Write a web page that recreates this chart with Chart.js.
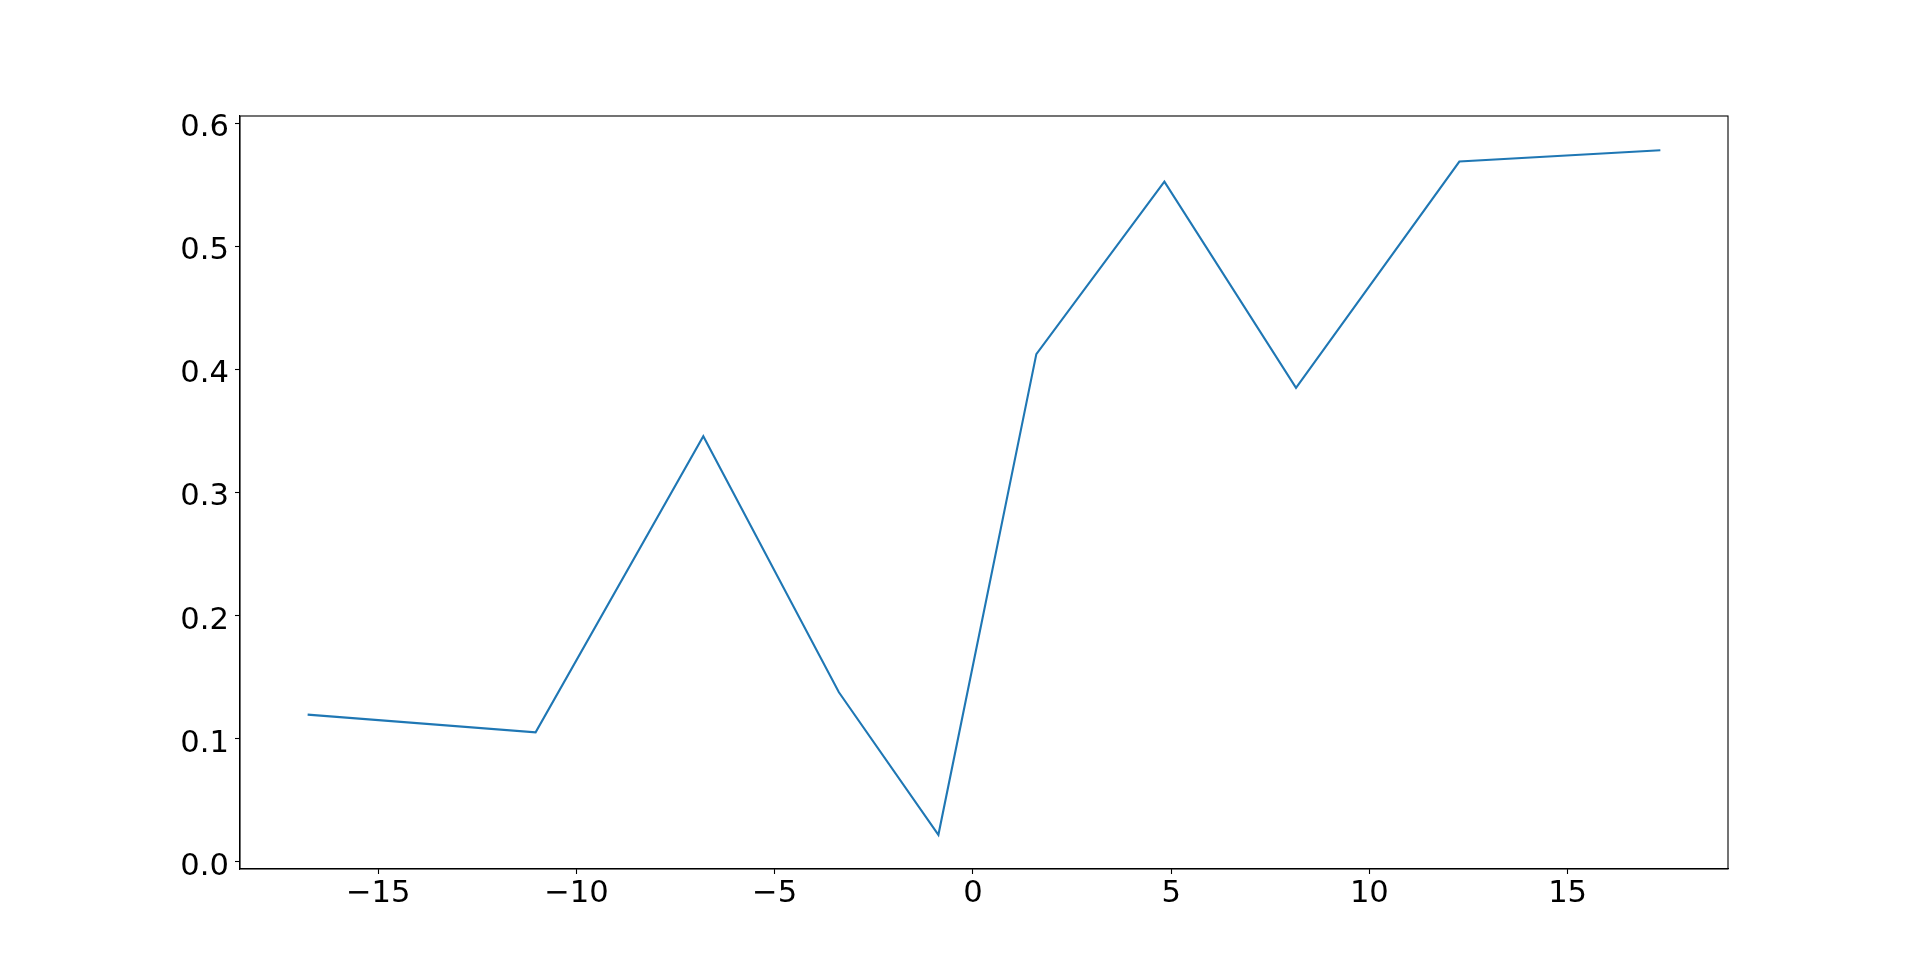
<!DOCTYPE html>
<html>
<head>
<meta charset="utf-8">
<script src="https://cdn.jsdelivr.net/npm/chart.js@4/dist/chart.umd.min.js"></script>
<style>
html,body{margin:0;padding:0;background:#fff;}
canvas{display:block;}
</style>
</head>
<body>
<canvas id="c" width="1920" height="977"></canvas>
<script>
// Data
const xValues = [-16.78, -11.03, -6.80, -3.38, -0.87, 1.60, 4.83, 8.15, 12.27, 17.34];
const yValues = [0.1196, 0.1052, 0.3457, 0.1377, 0.0220, 0.4124, 0.5525, 0.3850, 0.5688, 0.5780];
const xTicks = [-15, -10, -5, 0, 5, 10, 15];
const yTicks = [0.0, 0.1, 0.2, 0.3, 0.4, 0.5, 0.6];
const xLimits = [-18.486, 19.046];
const yLimits = [-0.0058, 0.6058];

const points = xValues.map((x, i) => ({x: x, y: yValues[i]}));
const fmtX = v => String(v).replace('-', '\u2212');
const fmtY = v => Number(v).toFixed(1);

const framePlugin = {
  id: 'frame',
  afterDraw(chart) {
    const a = chart.chartArea, ctx = chart.ctx;
    ctx.save();
    ctx.strokeStyle = '#000';
    ctx.lineWidth = 1.1;
    ctx.strokeRect(a.left, a.top, a.right - a.left, a.bottom - a.top);
    ctx.restore();
  }
};

Chart.defaults.font.family = '"DejaVu Sans", sans-serif';
Chart.defaults.color = '#000';

new Chart(document.getElementById('c'), {
  type: 'scatter',
  data: {
    datasets: [{
      data: points,
      showLine: true,
      borderColor: '#1f77b4',
      backgroundColor: '#1f77b4',
      borderWidth: 2.1,
      pointRadius: 0,
      pointHoverRadius: 0,
      tension: 0,
      fill: false
    }]
  },
  plugins: [framePlugin],
  options: {
    responsive: false,
    animation: false,
    events: [],
    layout: {padding: {left: 0, top: 116, right: 192, bottom: 0}},
    plugins: {legend: {display: false}, tooltip: {enabled: false}, title: {display: false}},
    scales: {
      x: {
        type: 'linear',
        position: 'bottom',
        min: xLimits[0],
        max: xLimits[1],
        afterBuildTicks: s => { s.ticks = xTicks.map(v => ({value: v})); },
        afterFit: s => { s.height = 108; },
        border: {display: true, color: '#000', width: 1.1},
        grid: {drawOnChartArea: false, drawTicks: true, tickLength: 5, color: '#000', tickWidth: 1.1},
        ticks: {
          font: {family: '"DejaVu Sans", sans-serif', size: 30.6},
          color: '#000',
          padding: 1.5,
          maxRotation: 0,
          autoSkip: false,
          callback: v => fmtX(v)
        }
      },
      y: {
        type: 'linear',
        position: 'left',
        min: yLimits[0],
        max: yLimits[1],
        afterBuildTicks: s => { s.ticks = yTicks.map(v => ({value: v})); },
        afterFit: s => { s.width = 240; },
        border: {display: true, color: '#000', width: 1.1},
        grid: {drawOnChartArea: false, drawTicks: true, tickLength: 5, color: '#000', tickWidth: 1.1},
        ticks: {
          font: {family: '"DejaVu Sans", sans-serif', size: 30.6},
          color: '#000',
          padding: 6,
          labelOffset: 5,
          autoSkip: false,
          callback: v => fmtY(v)
        }
      }
    }
  }
});
</script>
</body>
</html>
